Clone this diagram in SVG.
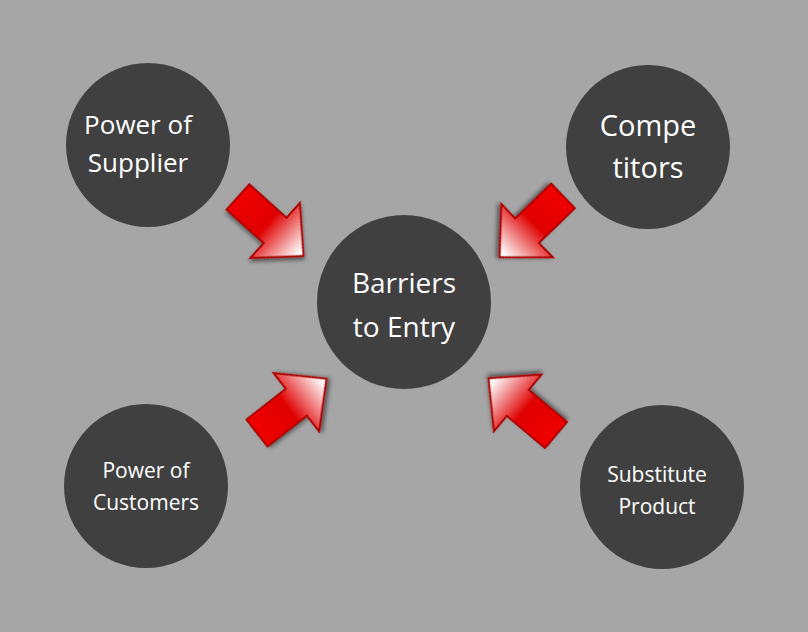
<svg xmlns="http://www.w3.org/2000/svg" width="808" height="632" viewBox="0 0 808 632">
<style>
.n{fill:#404040}
.t{fill:#fff;font-family:"Open Sans",sans-serif;text-anchor:middle}
.a{fill:url(#g);stroke:#b00000;stroke-width:2;filter:url(#s)}
</style>
<defs>
<linearGradient id="g" x1="0" y1="0" x2="88" y2="0" gradientUnits="userSpaceOnUse">
<stop offset="0" stop-color="#f00000"/><stop offset="0.45" stop-color="#e00000"/><stop offset="0.95" stop-color="#fff"/>
</linearGradient>
<filter id="s" x="-30%" y="-30%" width="160%" height="160%"><feDropShadow dx="2" dy="2" stdDeviation="2" flood-color="#000" flood-opacity="0.5"/></filter>
<path id="arr" d="M0,-17 L50,-17 L50,-37 L88,0 L50,37 L50,17 L0,17 Z"/>
</defs>
<rect width="808" height="632" fill="#a6a6a6"/>
<g id="connectors">
<use href="#arr" class="a" transform="translate(238,197) rotate(42)"/>
<use href="#arr" class="a" transform="translate(563,196) rotate(136)"/>
<use href="#arr" class="a" transform="translate(257,433) rotate(-38)"/>
<use href="#arr" class="a" transform="translate(556,435) rotate(220)"/>
</g>
<g id="center"><circle class="n" cx="404" cy="302" r="87"/><text class="t" font-size="28"><tspan x="404" y="293">Barriers</tspan><tspan x="404" y="337">to Entry</tspan></text></g>
<g id="supplier"><circle class="n" cx="148" cy="145" r="82"/><text class="t" font-size="26"><tspan x="138" y="134">Power of</tspan><tspan x="138" y="172">Supplier</tspan></text></g>
<g id="competitors"><circle class="n" cx="648" cy="147" r="82"/><text class="t" font-size="29"><tspan x="648" y="136">Compe</tspan><tspan x="648" y="178">titors</tspan></text></g>
<g id="customers"><circle class="n" cx="146" cy="486" r="82"/><text class="t" font-size="21"><tspan x="146" y="478">Power of</tspan><tspan x="146" y="510">Customers</tspan></text></g>
<g id="substitute"><circle class="n" cx="662" cy="487" r="82"/><text class="t" font-size="21"><tspan x="657" y="482">Substitute</tspan><tspan x="657" y="514">Product</tspan></text></g>
</svg>
